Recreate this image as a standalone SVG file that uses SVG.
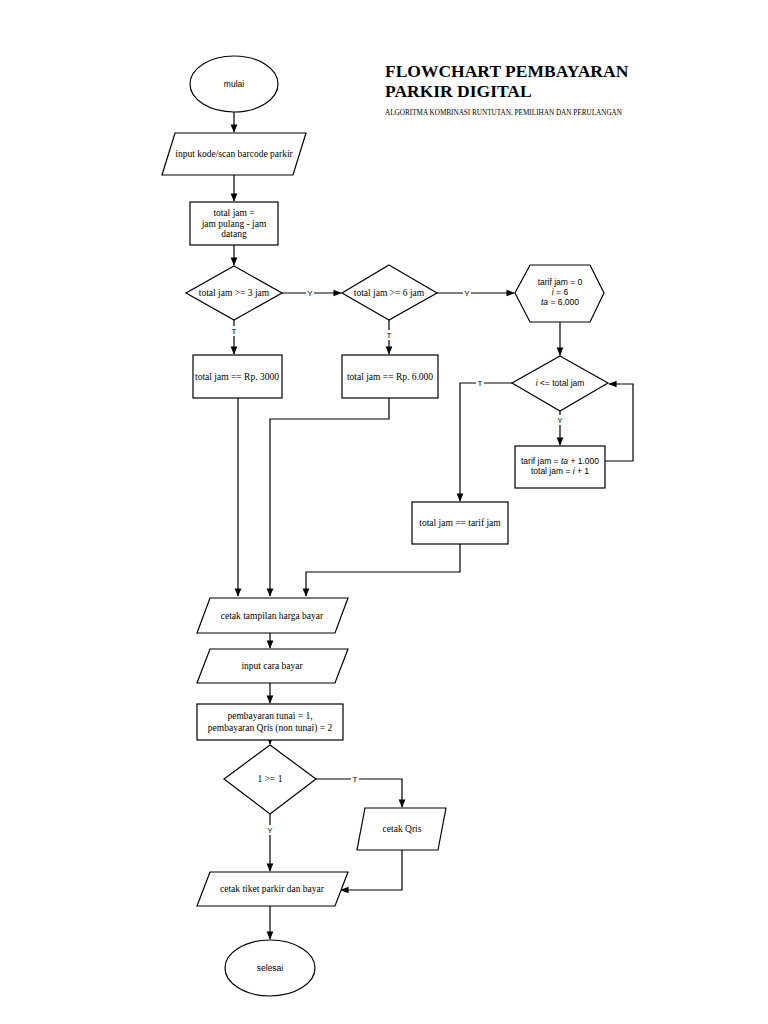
<svg xmlns="http://www.w3.org/2000/svg" width="768" height="1024" viewBox="0 0 768 1024">
<style>
.s{fill:#fff;stroke:#000;stroke-width:1.2}
.t{font-family:"Liberation Serif",serif;font-size:9.5px;text-anchor:middle;fill:#000}
.a{font-family:"Liberation Sans",sans-serif;font-size:8.5px;text-anchor:middle;fill:#000}
.c{fill:none;stroke:#000;stroke-width:1.2;marker-end:url(#ar)}
.l{font-family:"Liberation Sans",sans-serif;font-size:8px;text-anchor:middle;fill:#000}
.lb{fill:#fff}
.ti{font-family:"Liberation Serif",serif;font-weight:bold;font-size:17.5px;fill:#000}
.st{font-family:"Liberation Serif",serif;font-size:7.2px;fill:#000}
</style>
<defs><marker id="ar" viewBox="0 0 10 10" refX="9" refY="5" markerWidth="7" markerHeight="7" orient="auto"><path d="M0,1 L10,5 L0,9 Z" fill="#000"/></marker></defs>
<rect width="768" height="1024" fill="#fff"/>
<text class="ti" x="385" y="77">FLOWCHART PEMBAYARAN</text>
<text class="ti" x="385" y="97">PARKIR DIGITAL</text>
<text class="st" x="385" y="115">ALGORITMA KOMBINASI RUNTUTAN, PEMILIHAN DAN PERULANGAN</text>
<g id="connectors">
<path class="c" d="M234,112V132"/>
<path class="c" d="M234,175V201"/>
<path class="c" d="M234,245V265"/>
<path class="c" d="M282,293H341"/>
<path class="c" d="M437,293H514"/>
<path class="c" d="M234,320V354"/>
<path class="c" d="M389,320V354"/>
<path class="c" d="M560,322V355"/>
<path class="c" d="M560,411V445"/>
<path class="c" d="M605,461H633V384H609"/>
<path class="c" d="M512,383H460V501"/>
<path class="c" d="M238,398V596"/>
<path class="c" d="M389,398V419H270V596"/>
<path class="c" d="M460,544V572H306V596"/>
<path class="c" d="M270,633V648"/>
<path class="c" d="M270,683V703"/>
<path class="c" d="M270,740V744"/>
<path class="c" d="M316,779H402V807"/>
<path class="c" d="M270,814V871"/>
<path class="c" d="M402,850V890H341"/>
<path class="c" d="M270,906V939"/>
<rect class="lb" x="306" y="288" width="8" height="10"/><text class="l" x="310" y="296">Y</text>
<rect class="lb" x="463" y="288" width="8" height="10"/><text class="l" x="467" y="296">Y</text>
<rect class="lb" x="230" y="326" width="8" height="10"/><text class="l" x="234" y="334">T</text>
<rect class="lb" x="385" y="330" width="8" height="10"/><text class="l" x="389" y="338">T</text>
<rect class="lb" x="556" y="415" width="8" height="10"/><text class="l" x="560" y="423">Y</text>
<rect class="lb" x="476" y="378" width="8" height="10"/><text class="l" x="480" y="386">T</text>
<rect class="lb" x="351" y="774" width="8" height="10"/><text class="l" x="355" y="782">T</text>
<rect class="lb" x="266" y="825" width="8" height="10"/><text class="l" x="270" y="833">Y</text>
</g>
<g id="mulai"><ellipse class="s" cx="234" cy="84" rx="44" ry="28"/><text class="a" x="234" y="87">mulai</text></g>
<g id="input"><path class="s" d="M175,133H306L293,175H162Z"/><text class="t" x="234" y="157">input kode/scan barcode parkir</text></g>
<g id="hitung"><rect class="s" x="190" y="202" width="88" height="43"/><text class="t" x="234" y="216">total jam =</text><text class="t" x="234" y="227">jam pulang - jam</text><text class="t" x="234" y="237">datang</text></g>
<g id="d1"><path class="s" d="M234,266L282,293L234,320L186,293Z"/><text class="t" x="234" y="296">total jam &gt;= 3 jam</text></g>
<g id="d2"><path class="s" d="M389,265L437,293L389,320L342,293Z"/><text class="t" x="389" y="296">total jam &gt;= 6 jam</text></g>
<g id="hex"><path class="s" d="M530,265H590L604,293L590,322H530L515,293Z"/><text class="a" x="560" y="285">tarif jam = 0</text><text class="a" x="560" y="295"><tspan font-style="italic">i</tspan> = 6</text><text class="a" x="560" y="305"><tspan font-style="italic">ta</tspan> = 6.000</text></g>
<g id="r3"><rect class="s" x="193" y="355" width="89" height="43"/><text class="t" x="237" y="380">total jam == Rp. 3000</text></g>
<g id="r6"><rect class="s" x="342" y="355" width="96" height="43"/><text class="t" x="390" y="380">total jam == Rp. 6.000</text></g>
<g id="d3"><path class="s" d="M560,356L608,383L560,411L512,383Z"/><text class="a" x="560" y="386"><tspan font-style="italic">i</tspan> &lt;= total jam</text></g>
<g id="rloop"><rect class="s" x="515" y="446" width="90" height="42"/><text class="a" x="560" y="464">tarif jam = <tspan font-style="italic">ta</tspan> + 1.000</text><text class="a" x="560" y="474">total jam = <tspan font-style="italic">i</tspan> + 1</text></g>
<g id="rtarif"><rect class="s" x="412" y="502" width="96" height="42"/><text class="t" x="460" y="526">total jam == tarif jam</text></g>
<g id="cetak"><path class="s" d="M210,598H348L335,633H197Z"/><text class="t" x="272" y="619">cetak tampilan harga bayar</text></g>
<g id="cara"><path class="s" d="M210,649H348L335,683H197Z"/><text class="t" x="272" y="669">input cara bayar</text></g>
<g id="pemb"><rect class="s" x="197" y="704" width="146" height="36"/><text class="t" x="270" y="719">pembayaran tunai = 1,</text><text class="t" x="270" y="731">pembayaran Qris (non tunai) = 2</text></g>
<g id="d4"><path class="s" d="M270,745L316,779L270,814L224,779Z"/><text class="t" x="270" y="782">1 &gt;= 1</text></g>
<g id="qris"><path class="s" d="M365,808H446L438,850H357Z"/><text class="t" x="402" y="832">cetak Qris</text></g>
<g id="tiket"><path class="s" d="M210,872H348L335,906H197Z"/><text class="t" x="272" y="892">cetak tiket parkir dan bayar</text></g>
<g id="selesai"><ellipse class="s" cx="270" cy="968" rx="45" ry="28"/><text class="a" x="270" y="971">selesai</text></g>
</svg>
